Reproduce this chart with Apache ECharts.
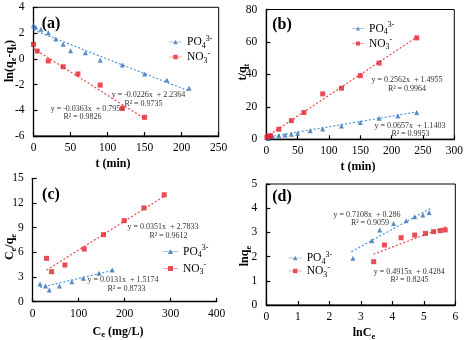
<!DOCTYPE html>
<html><head><meta charset="utf-8">
<script src="https://cdn.jsdelivr.net/npm/echarts@6/dist/echarts.min.js"></script>
<style>html,body{margin:0;padding:0;background:#fff}#c{width:474px;height:340px}</style>
</head><body><div id="c"></div>
<script>
// ---- (a) pseudo-first-order: ln(qe-qt) vs t
const tA_PO4 = [0, 3, 10, 20, 30, 40, 50, 70, 90, 120, 150, 180, 210];
const yA_PO4 = [2.6, 2.45, 2.29, 2.03, 1.54, 1.13, 0.63, 0.47, -0.12, -0.48, -1.18, -1.65, -2.29];
const tA_NO3 = [0, 5, 20, 40, 60, 90, 120, 150];
const yA_NO3 = [1.12, 0.6, -0.17, -0.62, -1.18, -2.04, -3.85, -4.55];
// ---- (b) pseudo-second-order: t/qt vs t
const tB_PO4 = [3, 10, 20, 30, 40, 50, 70, 90, 120, 150, 180, 210, 240];
const yB_PO4 = [0.5, 1.6, 2.3, 2.7, 3.1, 3.7, 5.2, 6.4, 8.2, 10.3, 13.0, 14.4, 16.5];
const tB_NO3 = [1, 4, 7, 20, 40, 60, 90, 120, 150, 180, 240];
const yB_NO3 = [1.2, 2.0, 2.1, 6.2, 11.5, 16.5, 28.0, 31.5, 39.2, 47.0, 62.5];
// ---- (c) Langmuir: Ce/qe vs Ce
const xC_PO4 = [16, 28, 36, 58, 85, 110, 144, 173];
const yC_PO4 = [2.15, 1.9, 1.42, 1.9, 2.43, 2.84, 3.45, 3.85];
const xC_NO3 = [30, 41, 70, 112, 154, 199, 242, 286];
const yC_NO3 = [5.27, 3.65, 4.46, 6.4, 8.15, 9.85, 11.4, 13.0];
// ---- (d) Freundlich: lnqe vs lnCe
const xD_PO4 = [2.75, 3.35, 3.6, 4.04, 4.44, 4.71, 4.97, 5.17];
const yD_PO4 = [1.93, 2.66, 3.1, 3.37, 3.48, 3.65, 3.72, 3.82];
const xD_NO3 = [3.41, 3.75, 4.28, 4.71, 5.05, 5.31, 5.52, 5.68];
const yD_NO3 = [1.79, 2.48, 2.78, 2.89, 2.96, 3.03, 3.07, 3.1];
// ---- linear fits shown on the chart: [slope, intercept, xStart, xEnd]
const fitA_PO4 = [-0.0226, 2.2364, 0, 210];
const fitA_NO3 = [-0.0363, 0.7954, 0, 150];
const fitB_PO4 = [0.0657, 1.1403, 0, 240];
const fitB_NO3 = [0.2562, 1.4955, 0, 240];
const fitC_PO4 = [0.0131, 1.5174, 16, 175];
const fitC_NO3 = [0.0351, 2.7833, 30, 288];
const fitD_PO4 = [0.7108, 0.286, 2.7, 5.2];
const fitD_NO3 = [0.4915, 0.4284, 3.4, 5.7];
// ---- equation labels
const eqA = ['y = -0.0226x  + 2.2364', 'R² = 0.9735', 'y = -0.0363x  + 0.7954', 'R² = 0.9826'];
const eqB = ['y = 0.2562x  + 1.4955', 'R² = 0.9964', 'y = 0.0657x  + 1.1403', 'R² = 0.9953'];
const eqC = ['y = 0.0351x  + 2.7833', 'R² = 0.9612', 'y = 0.0131x  + 1.5174', 'R² = 0.8733'];
const eqD = ['y = 0.7108x  + 0.286', 'R² = 0.9059', 'y = 0.4915x  + 0.4284', 'R² = 0.8245'];
// ---- axis ranges: [min, max, interval]
const axA = [[0, 250, 50], [-6, 4, 2]];
const axB = [[0, 300, 50], [0, 80, 20]];
const axC = [[0, 400, 100], [0, 15, 3]];
const axD = [[0, 6, 1], [0, 5, 1]];

const SERIF = "'Liberation Serif','Times New Roman',serif";
const C_PO4 = '#2f6eb5', C_NO3 = '#e2202b';
const T_PO4 = '#4b94d6', T_NO3 = '#e8474d';

const chart = echarts.init(document.getElementById('c'), null, {renderer: 'canvas'});

const grids = [
  {left: 33.5, top: 7.3, width: 185.2, height: 128.7, show: true, borderColor: '#000', borderWidth: 1},
  {left: 266.3, top: 9.5, width: 188, height: 129.8, show: true, borderColor: '#000', borderWidth: 1},
  {left: 32.7, top: 178.3, width: 184, height: 123.4},
  {left: 266.3, top: 184, width: 189, height: 121, show: true, borderColor: '#000', borderWidth: 1}
];
const axes = [axA, axB, axC, axD];
function mkAxis(gi, r, margin) {
  return {
    type: 'value', gridIndex: gi, min: r[0], max: r[1], interval: r[2],
    axisLine: {onZero: false, lineStyle: {color: '#000', width: 1.3}},
    axisTick: {inside: true, length: 4, lineStyle: {color: '#000', width: 1.2}},
    splitLine: {show: false},
    axisLabel: {fontFamily: SERIF, fontSize: 11.5, color: '#000', margin: margin}
  };
}
const xAxes = axes.map((a, i) => mkAxis(i, a[0], 6));
const yAxes = axes.map((a, i) => mkAxis(i, a[1], 9));

function pts(xs, ys) { return xs.map((x, i) => [x, ys[i]]); }
function fitLine(f) { return [[f[2], f[0] * f[2] + f[1]], [f[3], f[0] * f[3] + f[1]]]; }

const panels = [
  [tA_PO4, yA_PO4, tA_NO3, yA_NO3, fitA_PO4, fitA_NO3],
  [tB_PO4, yB_PO4, tB_NO3, yB_NO3, fitB_PO4, fitB_NO3],
  [xC_PO4, yC_PO4, xC_NO3, yC_NO3, fitC_PO4, fitC_NO3],
  [xD_PO4, yD_PO4, xD_NO3, yD_NO3, fitD_PO4, fitD_NO3]
];
const series = [];
panels.forEach((p, i) => {
  series.push({type: 'line', name: 'fitPO4_' + i, xAxisIndex: i, yAxisIndex: i, data: fitLine(p[4]),
    symbol: 'none', silent: true, lineStyle: {color: T_PO4, width: 1.2, type: [2, 2]}, z: 2});
  series.push({type: 'line', name: 'fitNO3_' + i, xAxisIndex: i, yAxisIndex: i, data: fitLine(p[5]),
    symbol: 'none', silent: true, lineStyle: {color: T_NO3, width: 1.2, type: [2, 2]}, z: 2});
  series.push({type: 'scatter', name: 'PO4', xAxisIndex: i, yAxisIndex: i, data: pts(p[0], p[1]),
    symbol: 'triangle', symbolSize: 5, itemStyle: {color: C_PO4}, z: 3});
  series.push({type: 'scatter', name: 'NO3', xAxisIndex: i, yAxisIndex: i, data: pts(p[2], p[3]),
    symbol: 'rect', symbolSize: 5, itemStyle: {color: C_NO3}, z: 3});
});

const ICON_TRI = 'path://M0,3.5L24,3.5L24,4.5L0,4.5Z M12,0L16,8L8,8Z';
const ICON_SQ = 'path://M0,3.5L24,3.5L24,4.5L0,4.5Z M8,0L16,0L16,8L8,8Z';
const legRich = {
  m: {fontFamily: SERIF, fontSize: 11.5, color: '#000', lineHeight: 15},
  s: {fontFamily: SERIF, fontSize: 8, color: '#000', verticalAlign: 'bottom'},
  p: {fontFamily: SERIF, fontSize: 8, color: '#000', verticalAlign: 'top'}
};
function mkLegend(left, top, gap, w) {
  return {
    left: left, top: top, orient: 'vertical', itemGap: gap, itemWidth: w, itemHeight: 5,
    padding: 0, selectedMode: false,
    data: [{name: 'PO4', icon: ICON_TRI}, {name: 'NO3', icon: ICON_SQ}],
    formatter: n => n === 'PO4' ? '{m|PO}{s|4}{p|3-}' : '{m|NO}{s|3}{p|-}',
    textStyle: {rich: legRich, padding: [0, 0, 0, 0]}
  };
}
const legends = [
  mkLegend(169, 34.5, 0, 13),
  mkLegend(352, 21, 0, 12),
  mkLegend(163, 244, 2, 15),
  mkLegend(288.7, 250.5, -2, 13)
];

const titleRich = {
  m: {fontFamily: SERIF, fontSize: 12, fontWeight: 'bold', color: '#000', lineHeight: 16},
  s: {fontFamily: SERIF, fontSize: 8.5, fontWeight: 'bold', color: '#000', verticalAlign: 'bottom'}
};
function txt(x, y, text, opt) {
  return Object.assign({
    type: 'text', x: x, y: y, silent: true,
    style: Object.assign({text: text, fill: '#000', align: 'center', verticalAlign: 'middle',
      textAlign: 'center', textVerticalAlign: 'middle'}, (opt && opt.style) || {})
  }, (opt && opt.el) || {});
}
function axisTitle(x, y, text, rot) {
  return txt(x, y, text, {style: {rich: titleRich}, el: rot ? {rotation: Math.PI / 2} : {}});
}
function panelTag(x, y, text) {
  return txt(x, y, text, {style: {font: 'bold 16px ' + SERIF}});
}
function eq(x, y, text) {
  return txt(x, y, text, {style: {font: '8px ' + SERIF, fill: '#333'}});
}
const graphics = [
  panelTag(51, 24, '(a)'), panelTag(282, 25, '(b)'), panelTag(51, 195, '(c)'), panelTag(282, 196.5, '(d)'),
  axisTitle(10, 61, '{m|ln(q}{s|e}{m|-q}{s|t}{m|)}', true),
  axisTitle(113, 163.5, '{m|t (min)}', false),
  axisTitle(243, 72, '{m|t/q}{s|t}', true),
  axisTitle(358, 166.5, '{m|t (min)}', false),
  axisTitle(10, 247, '{m|C}{s|e}{m|/q}{s|e}', true),
  axisTitle(118, 331.5, '{m|C}{s|e}{m| (mg/L)}', false),
  axisTitle(245, 256, '{m|lnq}{s|e}', true),
  axisTitle(364, 333, '{m|lnC}{s|e}', false),
  eq(148.5, 95, eqA[0]), eq(143.5, 104, eqA[1]), eq(87.5, 109, eqA[2]), eq(82.5, 117, eqA[3]),
  eq(407, 80, eqB[0]), eq(407, 89.3, eqB[1]), eq(410, 126, eqB[2]), eq(410.5, 134.3, eqB[3]),
  eq(163, 227.3, eqC[0]), eq(168.5, 236, eqC[1]), eq(123, 280, eqC[2]), eq(126.5, 289, eqC[3]),
  eq(367, 215, eqD[0]), eq(370, 223.3, eqD[1]), eq(409.3, 271.7, eqD[2]), eq(409.5, 280, eqD[3])
];

chart.setOption({
  animation: false,
  backgroundColor: '#fff',
  grid: grids,
  xAxis: xAxes,
  yAxis: yAxes,
  legend: legends,
  series: series,
  graphic: {elements: graphics}
});
</script></body></html>
